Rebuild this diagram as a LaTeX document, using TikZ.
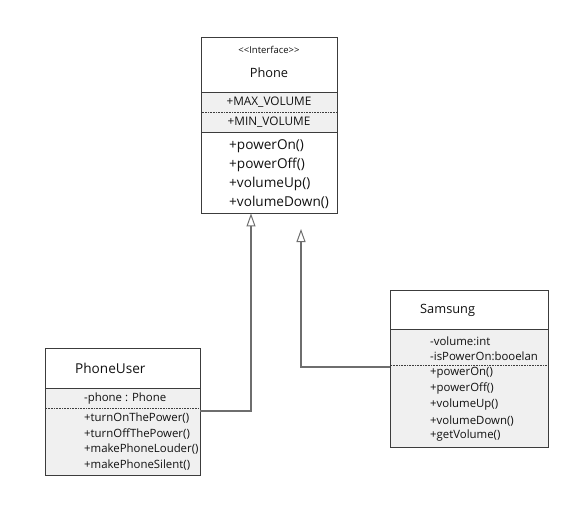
\documentclass[tikz,border=0pt]{standalone}
\usepackage{fontspec}
\setmainfont[Ligatures=NoCommon]{Open Sans}
\usetikzlibrary{arrows.meta}
\definecolor{bordc}{HTML}{3C3C3C}
\definecolor{compfill}{HTML}{F0F0F0}
\definecolor{linec}{HTML}{6E6E6E}
\definecolor{txt}{HTML}{111111}
\tikzset{
  comp/.style={draw=bordc, line width=0.9pt, inner sep=0pt, minimum width=#1},
  head/.style={comp=#1, fill=white},
  gray/.style={comp=#1, fill=compfill},
  sep/.style={draw=bordc, line width=0.5pt, dash pattern=on 1pt off 0.6pt},
  lbl/.style={anchor=west, inner sep=0pt, text=txt, font=\fontsize{11.4}{12}\selectfont},
  big/.style={anchor=west, inner sep=0pt, text=txt, font=\fontsize{13.6}{15}\selectfont},
  realize/.style={draw=linec, line width=1.2pt, -{Triangle[open, length=13pt, width=9pt, line width=1pt]}}
}
\begin{document}
\begin{tikzpicture}[x=1pt, y=-1pt]
\useasboundingbox (0,0) rectangle (582,528);
% Phone
\node[head=136pt, minimum height=55pt] (phead) at (269,64.5) {};
\node[gray=136pt, minimum height=40pt] (pattr) at (269,112) {};
\node[head=136pt, minimum height=81pt] (pops) at (269,172.5) {};
\draw[sep] ([xshift=1pt]pattr.west) -- ([xshift=-1pt]pattr.east);
\node[inner sep=0pt, text=txt, font=\fontsize{9.5}{10}\selectfont] (pst) at (269,50) {\symbol{60}\symbol{60}Interface\symbol{62}\symbol{62}};
\node[inner sep=0pt, text=txt, font=\fontsize{12.8}{14}\selectfont] (pname) at (269,73) {Phone};
\node[inner sep=0pt, text=txt, font=\fontsize{11.8}{12}\selectfont] (pa1) at (269,102) {+MAX\_VOLUME};
\node[inner sep=0pt, text=txt, font=\fontsize{11.8}{12}\selectfont] (pa2) at (269,122) {+MIN\_VOLUME};
\node[big] (pm1) at (229,146) {+powerOn()};
\node[big] (pm2) at (229,165) {+powerOff()};
\node[big] (pm3) at (229,184) {+volumeUp()};
\node[big] (pm4) at (229,202) {+volumeDown()};
% PhoneUser
\node[head=155pt, minimum height=40pt] (uhead) at (122.5,368) {};
\node[gray=155pt, minimum height=87pt] (ubody) at (122.5,431.5) {};
\draw[sep] (46,408) -- (199,408);
\node[big] (uname) at (75,368) {PhoneUser};
\node[lbl] (ua1) at (84,399) {-phone : Phone};
\node[lbl] (um1) at (84,418) {+turnOnThePower()};
\node[lbl] (um2) at (84,434) {+turnOffThePower()};
\node[lbl] (um3) at (84,449) {+makePhoneLouder()};
\node[lbl] (um4) at (84,465) {+makePhoneSilent()};
% Samsung
\node[head=158pt, minimum height=39pt] (shead) at (469,309.5) {};
\node[gray=158pt, minimum height=118pt] (sbody) at (469,388) {};
\draw[sep] (391,365) -- (547,365);
\node[inner sep=0pt, anchor=west, text=txt, font=\fontsize{12.8}{14}\selectfont] (sname) at (420,310) {Samsung};
\node[lbl] (sa1) at (430,341) {-volume:int};
\node[lbl] (sa2) at (430,356) {-isPowerOn:booelan};
\node[lbl] (sm1) at (430,373) {+powerOn()};
\node[lbl] (sm2) at (430,389) {+powerOff()};
\node[lbl] (sm3) at (430,405) {+volumeUp()};
\node[lbl] (sm4) at (430,421) {+volumeDown()};
\node[lbl] (sm5) at (430,436) {+getVolume()};
% connectors
\coordinate (tip2) at (301,229);
\draw[realize] ([yshift=20.5pt]ubody.east) -| ([xshift=-18pt]pops.south);
\draw[realize] ([yshift=21pt]sbody.west) -| (tip2);
\end{tikzpicture}
\end{document}
